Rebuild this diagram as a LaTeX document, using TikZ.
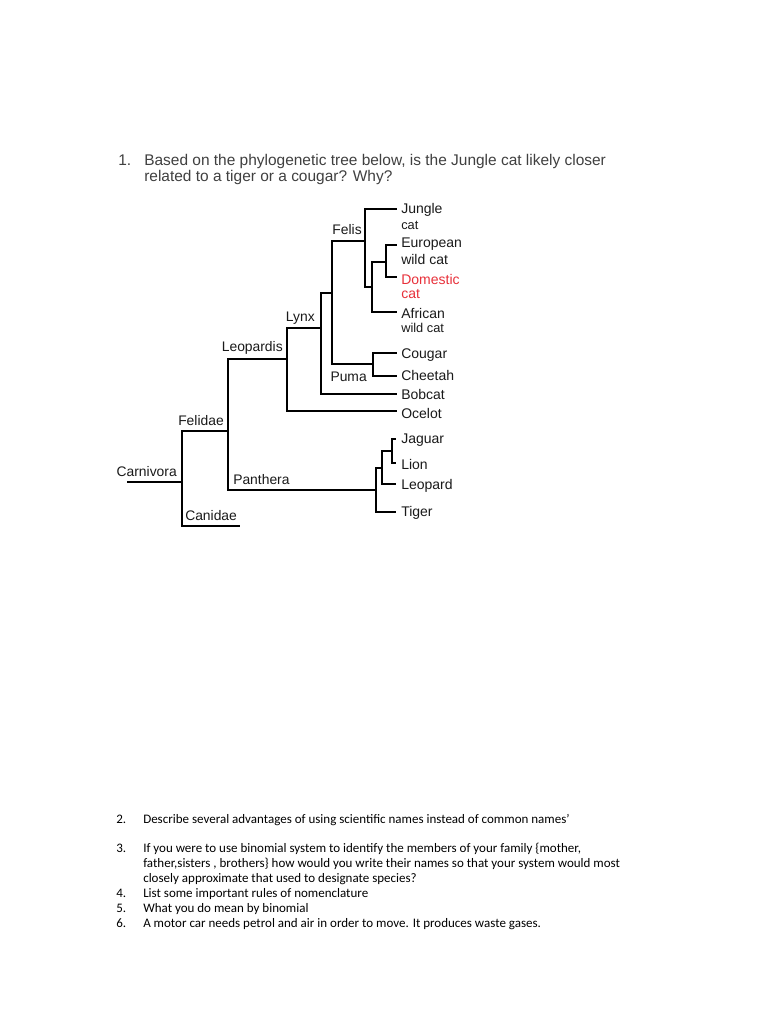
\documentclass[tikz,border=0pt]{standalone}
\usepackage{fontspec}
\setmainfont{Liberation Sans}
\newfontfamily\carlito{Carlito}
\definecolor{qgray}{HTML}{404040}
\definecolor{lab}{HTML}{1A1A1A}
\definecolor{domred}{HTML}{E8303A}
\begin{document}
\begin{tikzpicture}[x=0.75pt,y=-0.75pt,
  br/.style={line width=1.5pt,black,line join=miter,line cap=rect},
  sp/.style={anchor=west,inner sep=0pt,text=lab,font=\fontsize{10.5pt}{12pt}\selectfont},
  sp2/.style={anchor=west,inner sep=0pt,text=lab,font=\fontsize{9.6pt}{11pt}\selectfont},
  cl/.style={inner sep=0pt,text=lab,font=\fontsize{10.4pt}{12pt}\selectfont},
  q1/.style={anchor=base west,inner sep=0pt,text=qgray,font=\fontsize{11.6pt}{13pt}\selectfont},
  qb/.style={anchor=base west,inner sep=0pt,text=black,font=\carlito\fontsize{9.75pt}{11pt}\selectfont}]
\useasboundingbox (0,0) rectangle (768,1024);
\fill[white] (0,0) rectangle (768,1024);
% question 1
\node[q1] (n1) at (118,165) {1.};
\node[q1] (q1a) at (144,165) {Based on the phylogenetic tree below, is the Jungle cat likely closer};
\node[q1] (q1b) at (144,181) {related to a tiger or a cougar? Why?};
% tree coordinates
\coordinate (root) at (128,482);
\coordinate (carn) at (182,482);
% branches
\draw[br] (carn) -- (root);
\draw[br] (228,431) -- (182,431) -- (182,526) -- (239,526);
\draw[br] (287,359) -- (228,359) -- (228,490) -- (376,490);
\draw[br] (321,328) -- (287,328) -- (287,411) -- (396,411);
\draw[br] (332,293) -- (321,293) -- (321,394) -- (396,394);
\draw[br] (365,241) -- (332,241) -- (332,364) -- (373,364);
\draw[br] (396,353) -- (373,353) -- (373,376) -- (396,376);
\draw[br] (396,209) -- (365,209) -- (365,287) -- (372,287);
\draw[br] (386,262) -- (372,262) -- (372,312) -- (396,312);
\draw[br] (396,245) -- (386,245) -- (386,277) -- (396,277);
\draw[br] (382,468) -- (376,468) -- (376,512) -- (395,512);
\draw[br] (392,451) -- (382,451) -- (382,484) -- (395,484);
\draw[br] (395,439) -- (392,439) -- (392,463) -- (395,463);
% clade labels
\node[cl,anchor=east] (felis) at (362,230) {Felis};
\node[cl,anchor=east] (lynx) at (315,318) {Lynx};
\node[cl,anchor=east] (leop) at (283,348) {Leopardis};
\node[cl,anchor=east] (puma) at (367,377) {Puma};
\node[cl,anchor=east] (felid) at (224,421) {Felidae};
\node[cl,anchor=east] (carniv) at (177,472) {Carnivora};
\node[cl,anchor=west] (panth) at (233,480) {Panthera};
\node[cl,anchor=west] (canid) at (185,516) {Canidae};
% species labels
\node[sp] (jung) at (401,210) {Jungle};
\node[sp2] (jung2) at (401,225) {cat};
\node[sp] (euro) at (401,244) {European};
\node[sp] (euro2) at (401,259) {wild cat};
\node[sp,text=domred] (dom) at (401,279) {Domestic};
\node[sp,text=domred] (dom2) at (401,294) {cat};
\node[sp] (afr) at (401,313) {African};
\node[sp2] (afr2) at (401,328) {wild cat};
\node[sp] (coug) at (401,355) {Cougar};
\node[sp] (chee) at (401,375) {Cheetah};
\node[sp] (bobc) at (401,394) {Bobcat};
\node[sp] (ocel) at (401,413) {Ocelot};
\node[sp] (jag) at (401,440) {Jaguar};
\node[sp] (lion) at (401,464) {Lion};
\node[sp] (leopd) at (401,486) {Leopard};
\node[sp] (tig) at (401,513) {Tiger};
% bottom questions
\node[qb] (b2) at (116,823) {2.};
\node[qb] (t2) at (143,823) {Describe several advantages of using scientific names instead of common names’};
\node[qb] (b3) at (116,852) {3.};
\node[qb] (t3a) at (143,852) {If you were to use binomial system to identify the members of your family \{mother,};
\node[qb] (t3b) at (143,867) {father,sisters , brothers\} how would you write their names so that your system would most};
\node[qb] (t3c) at (143,882) {closely approximate that used to designate species?};
\node[qb] (b4) at (116,897) {4.};
\node[qb] (t4) at (143,897) {List some important rules of nomenclature};
\node[qb] (b5) at (116,912) {5.};
\node[qb] (t5) at (143,912) {What you do mean by binomial};
\node[qb] (b6) at (116,927) {6.};
\node[qb] (t6) at (143,927) {A motor car needs petrol and air in order to move. It produces waste gases.};
\end{tikzpicture}
\end{document}
